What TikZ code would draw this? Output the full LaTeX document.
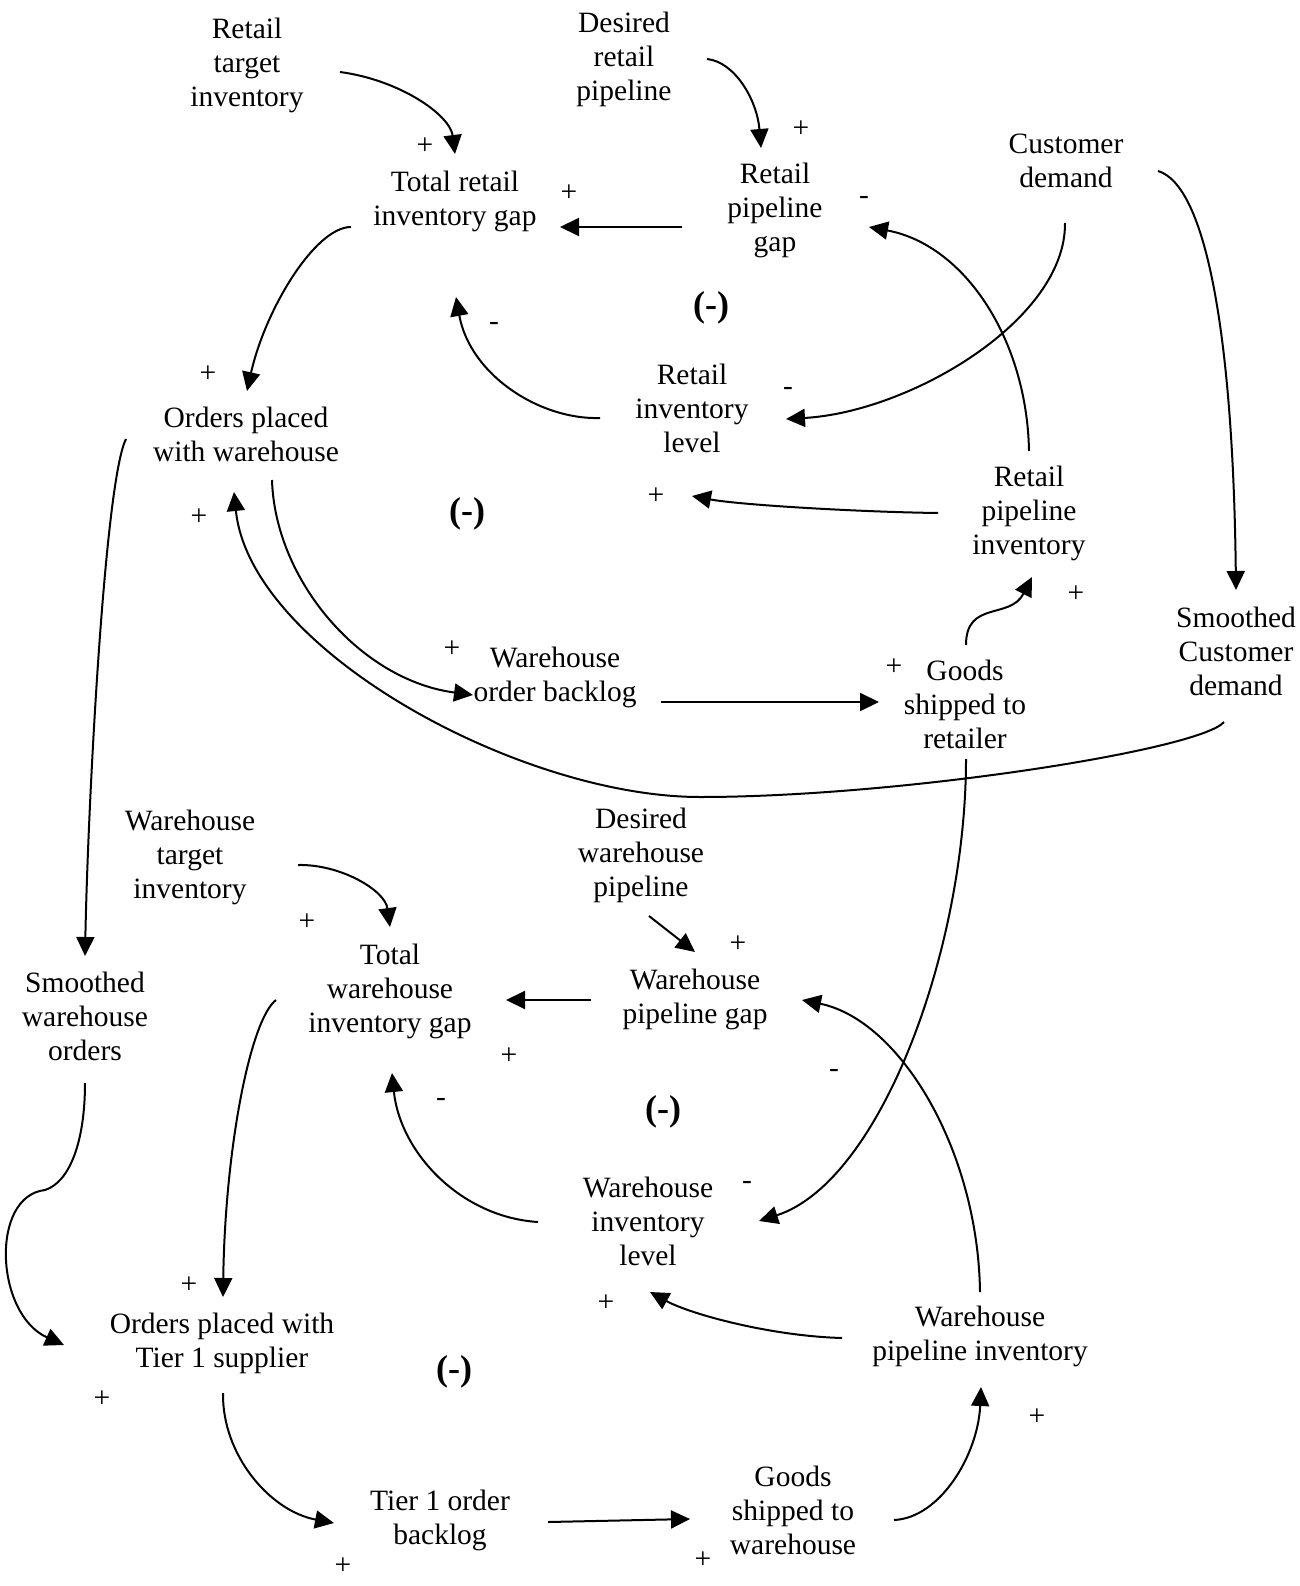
\documentclass[tikz,border=0pt]{standalone}
\usepackage{fontspec}
\setmainfont{Liberation Serif}
\usetikzlibrary{arrows.meta}
\begin{document}
\begin{tikzpicture}[x=1pt,y=-1pt,
  var/.style={align=center,inner sep=0pt,font=\fontsize{29.5}{34}\selectfont,execute at begin node=\strut,execute at end node=\strut},
  sgn/.style={inner sep=0pt,font=\fontsize{29.5}{34}\selectfont},
  loopm/.style={inner sep=0pt,font=\fontsize{36}{40}\selectfont\bfseries},
  link/.style={line width=2pt,-{Triangle[length=19pt,width=18pt]}}]
\fill[white] (0,0) rectangle (1299,1586);
\useasboundingbox (0,0) rectangle (1299,1586);
% variables
\node[var] (rti) at (247,67) {Retail\\target\\inventory};
\node[var] (drp) at (624,61) {Desired\\retail\\pipeline};
\node[var] (trig) at (455,203) {Total retail\\inventory gap};
\node[var] (rpg) at (775,212) {Retail\\pipeline\\gap};
\node[var] (cd) at (1066,166) {Customer\\demand};
\node[var] (opw) at (246,439) {Orders placed\\with warehouse};
\node[var] (ril) at (692,413) {Retail\\inventory\\level};
\node[var] (rpi) at (1029,515) {Retail\\pipeline\\inventory};
\node[var] (scd) at (1236,656) {Smoothed\\Customer\\demand};
\node[var] (wob) at (555,679) {Warehouse\\order backlog};
\node[var] (gsr) at (965,709) {Goods\\shipped to\\retailer};
\node[var] (wti) at (190,859) {Warehouse\\target\\inventory};
\node[var] (dwp) at (641,857) {Desired\\warehouse\\pipeline};
\node[var] (twig) at (390,993) {Total\\warehouse\\inventory gap};
\node[var] (wpg) at (695,1001) {Warehouse\\pipeline gap};
\node[var] (swo) at (85,1021) {Smoothed\\warehouse\\orders};
\node[var] (wil) at (648,1226) {Warehouse\\inventory\\level};
\node[var] (opt) at (222,1345) {Orders placed with\\Tier 1 supplier};
\node[var] (wpi) at (980,1338) {Warehouse\\pipeline inventory};
\node[var] (tob) at (440,1522) {Tier 1 order\\backlog};
\node[var] (gsw) at (793,1515) {Goods\\shipped to\\warehouse};
% links
\draw[link] ([shift={(93,5)}]rti.center) .. controls (400,80) and (450,115) .. ([shift={(0,-49)}]trig.center);
\draw[link] ([shift={(83,-2)}]drp.center) .. controls (735,62) and (757,100) .. ([shift={(-14,-64)}]rpg.center);
\draw[link] ([shift={(-93,15)}]rpg.center) -- ([shift={(105,24)}]trig.center);
\draw[link] ([shift={(-104,24)}]trig.center) .. controls (315,227) and (265,310) .. ([shift={(1,-48)}]opw.center);
\draw[link] ([shift={(-1,57)}]cd.center) .. controls (1066,320) and (910,412) .. ([shift={(94,6)}]ril.center);
\draw[link] ([shift={(92,5)}]cd.center) .. controls (1205,185) and (1233,330) .. ([shift={(0,-66)}]scd.center);
\draw[link] ([shift={(0,-64)}]rpi.center) .. controls (1027,340) and (965,245) .. ([shift={(94,15)}]rpg.center);
\draw[link] ([shift={(-92,5)}]ril.center) .. controls (540,420) and (470,375) .. ([shift={(1,94)}]trig.center);
\draw[link] ([shift={(-91,-2)}]rpi.center) .. controls (860,512) and (740,505) .. ([shift={(0,83)}]ril.center);
\draw[link] ([shift={(26,41)}]opw.center) .. controls (275,580) and (360,680) .. ([shift={(-82,16)}]wob.center);
\draw[link] ([shift={(-120,0)}]opw.center) .. controls (105,480) and (88,800) .. ([shift={(0,-65)}]swo.center);
\draw[link] ([shift={(-12,66)}]scd.center) .. controls (1200,750) and (900,797) .. (700,797)
  .. controls (520,797) and (250,650) .. ([shift={(-12,53)}]opw.center);
\draw[link] ([shift={(106,23)}]wob.center) -- ([shift={(-86,-7)}]gsr.center);
\draw[link] ([shift={(1,-64)}]gsr.center) .. controls (966,600) and (1010,620) .. ([shift={(3,62)}]rpi.center);
\draw[link] ([shift={(1,50)}]gsr.center) .. controls (966,950) and (880,1182) .. ([shift={(111,-5)}]wil.center);
\draw[link] ([shift={(108,6)}]wti.center) .. controls (340,864) and (385,890) .. ([shift={(0,-66)}]twig.center);
\draw[link] ([shift={(8,59)}]dwp.center) -- ([shift={(0,-49)}]wpg.center);
\draw[link] ([shift={(-104,-1)}]wpg.center) -- ([shift={(116,7)}]twig.center);
\draw[link] ([shift={(-114,7)}]twig.center) .. controls (250,1020) and (225,1150) .. ([shift={(1,-48)}]opt.center);
\draw[link] ([shift={(0,-46)}]wpi.center) .. controls (978,1150) and (900,1020) .. ([shift={(107,-1)}]wpg.center);
\draw[link] ([shift={(-110,-4)}]wil.center) .. controls (460,1217) and (400,1152) .. ([shift={(2,80)}]twig.center);
\draw[link] ([shift={(-138,0)}]wpi.center) .. controls (770,1336) and (690,1314) .. ([shift={(2,66)}]wil.center);
\draw[link] ([shift={(0,62)}]swo.center) .. controls (85,1141) and (70,1182) .. (45,1190)
  .. controls (-10,1196) and (-5,1314) .. ([shift={(-158,0)}]opt.center);
\draw[link] ([shift={(1,48)}]opt.center) .. controls (222,1455) and (270,1511) .. ([shift={(-106,1)}]tob.center);
\draw[link] ([shift={(108,0)}]tob.center) -- ([shift={(-103,4)}]gsw.center);
\draw[link] ([shift={(101,5)}]gsw.center) .. controls (940,1518) and (978,1455) .. ([shift={(1,49)}]wpi.center);
% polarity signs
\node[sgn] (s1) at (425,146) {+};
\node[sgn] (s2) at (801,129) {+};
\node[sgn] (s3) at (569,193) {+};
\node[sgn] (s4) at (864,200) {-};
\node[sgn] (s5) at (494,326) {-};
\node[sgn] (s6) at (208,374) {+};
\node[sgn] (s7) at (788,391) {-};
\node[sgn] (s8) at (199,517) {+};
\node[sgn] (s9) at (656,496) {+};
\node[sgn] (s10) at (1076,594) {+};
\node[sgn] (s11) at (452,649) {+};
\node[sgn] (s12) at (894,667) {+};
\node[sgn] (s13) at (307,922) {+};
\node[sgn] (s14) at (738,944) {+};
\node[sgn] (s15) at (509,1056) {+};
\node[sgn] (s16) at (834,1073) {-};
\node[sgn] (s17) at (441,1102) {-};
\node[sgn] (s18) at (747,1185) {-};
\node[sgn] (s19) at (189,1285) {+};
\node[sgn] (s20) at (606,1303) {+};
\node[sgn] (s21) at (102,1399) {+};
\node[sgn] (s22) at (1037,1417) {+};
\node[sgn] (s23) at (343,1566) {+};
\node[sgn] (s24) at (703,1560) {+};
% loop polarity
\node[loopm] (l1) at (711,308) {(-)};
\node[loopm] (l2) at (467,514) {(-)};
\node[loopm] (l3) at (663,1112) {(-)};
\node[loopm] (l4) at (454,1372) {(-)};
\end{tikzpicture}
\end{document}
